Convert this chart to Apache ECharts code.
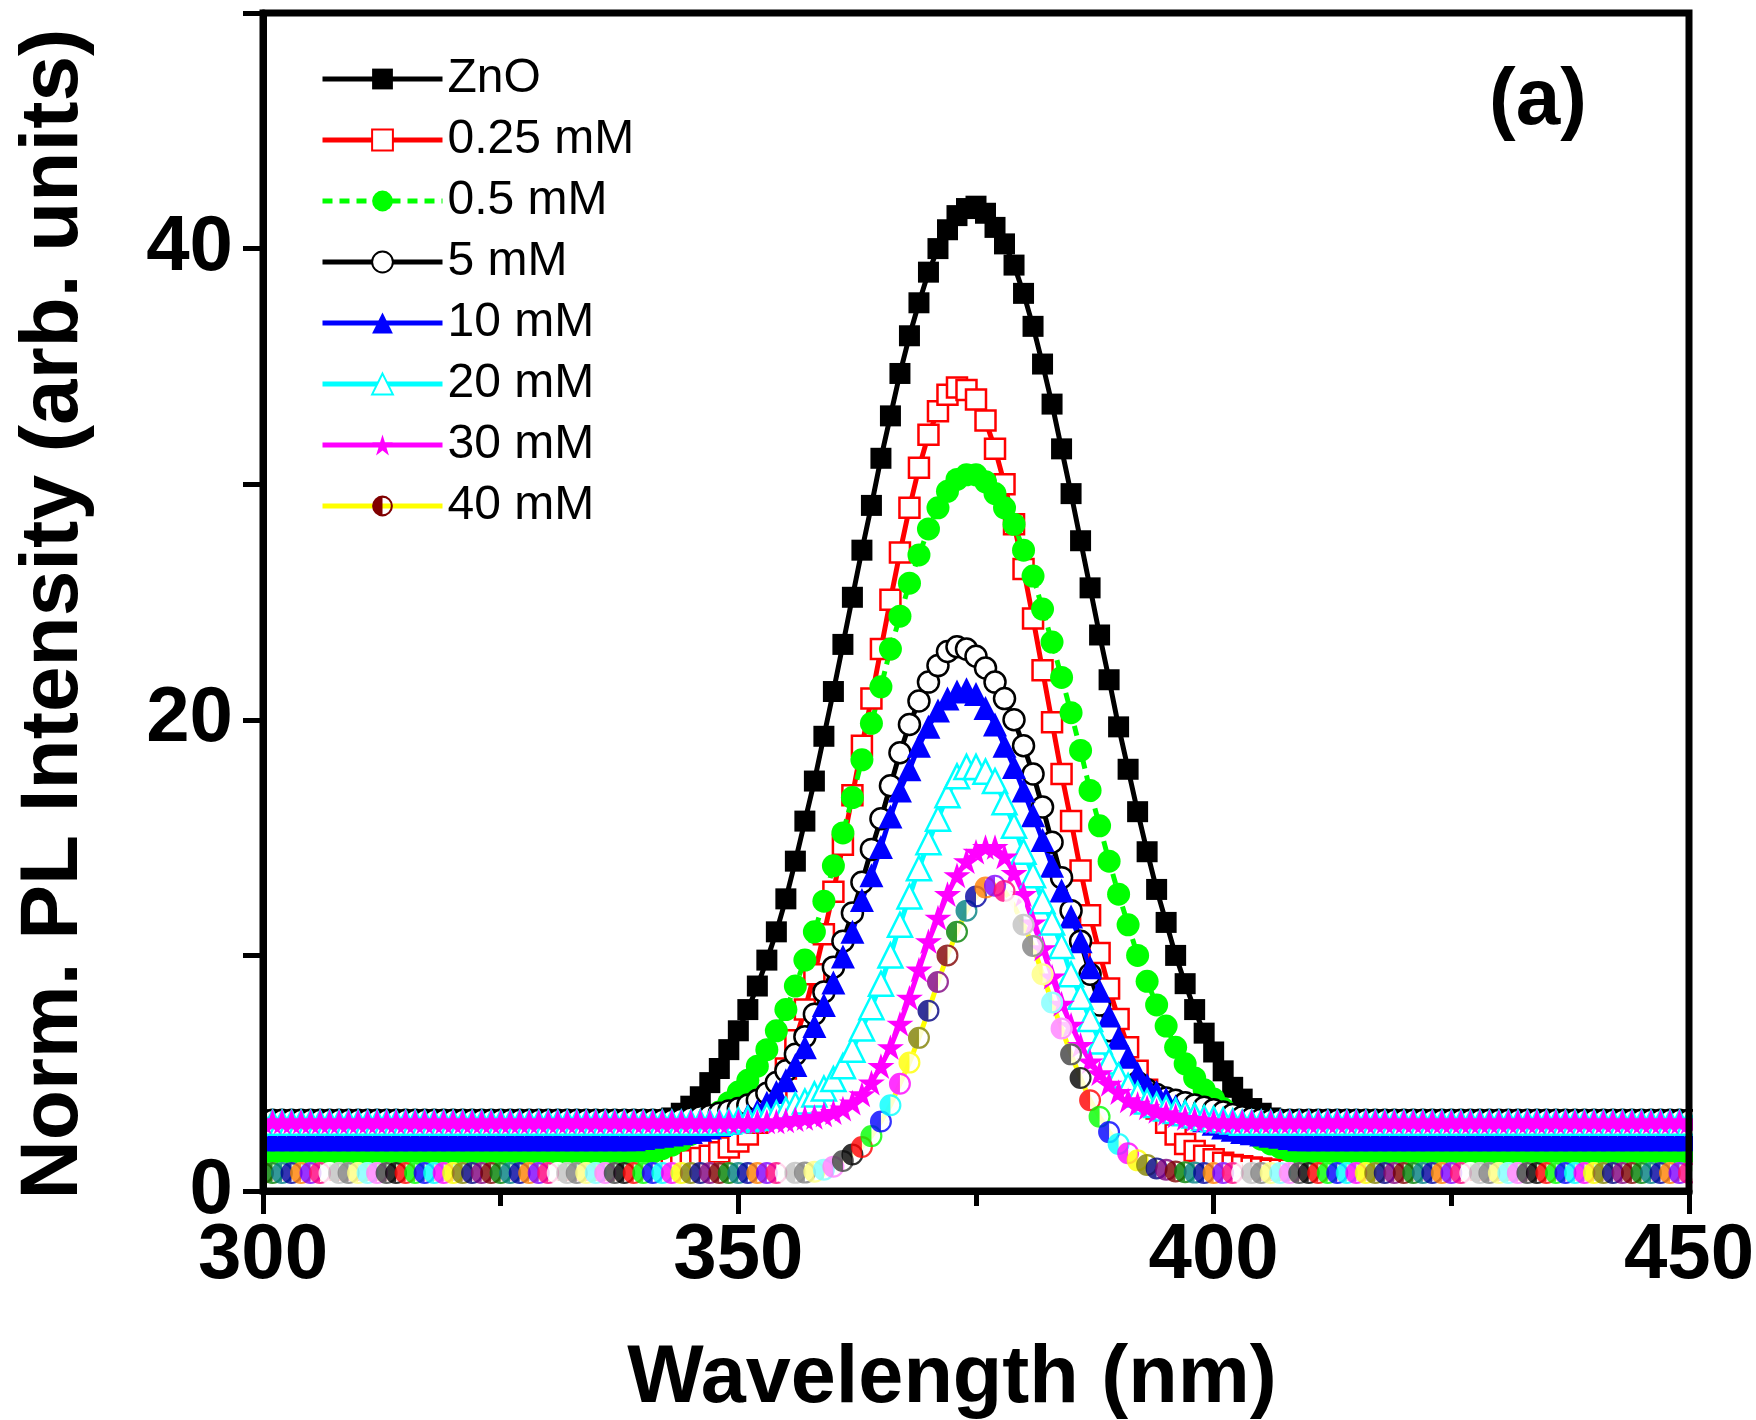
<!DOCTYPE html>
<html>
<head>
<meta charset="utf-8">
<script src="https://cdn.jsdelivr.net/npm/echarts@6/dist/echarts.min.js"></script>
<style>
  html, body { margin: 0; padding: 0; background: #fff; }
  #chart { width: 1756px; height: 1420px; }
</style>
</head>
<body>
<div id="chart"></div>
<script>
// wavelength axis (nm), one point per nm
const wavelength = [
  300,301,302,303,304,305,306,307,308,309,
  310,311,312,313,314,315,316,317,318,319,
  320,321,322,323,324,325,326,327,328,329,
  330,331,332,333,334,335,336,337,338,339,
  340,341,342,343,344,345,346,347,348,349,
  350,351,352,353,354,355,356,357,358,359,
  360,361,362,363,364,365,366,367,368,369,
  370,371,372,373,374,375,376,377,378,379,
  380,381,382,383,384,385,386,387,388,389,
  390,391,392,393,394,395,396,397,398,399,
  400,401,402,403,404,405,406,407,408,409,
  410,411,412,413,414,415,416,417,418,419,
  420,421,422,423,424,425,426,427,428,429,
  430,431,432,433,434,435,436,437,438,439,
  440,441,442,443,444,445,446,447,448,449,
  450
];

const znO = [
  3,3,3,3,3,3,3,3,3,3,
  3,3,3,3,3,3,3,3,3,3,
  3,3,3,3,3,3,3,3,3,3,
  3,3,3,3,3,3,3,3,3,3,
  3,3,3,3.1,3.3,3.6,4.0,4.6,5.2,6.0,
  6.8,7.7,8.7,9.8,11.0,12.4,14.0,15.7,17.4,19.3,
  21.2,23.2,25.2,27.2,29.1,31.1,32.9,34.7,36.3,37.7,
  39.0,40.0,40.8,41.4,41.7,41.8,41.5,40.9,40.2,39.3,
  38.1,36.7,35.1,33.4,31.5,29.6,27.6,25.6,23.6,21.7,
  19.7,17.9,16.1,14.4,12.8,11.4,10.0,8.8,7.7,6.7,
  5.9,5.1,4.4,3.9,3.5,3.3,3.1,3,3,3,
  3,3,3,3,3,3,3,3,3,3,
  3,3,3,3,3,3,3,3,3,3,
  3,3,3,3,3,3,3,3,3,3,
  3,3,3,3,3,3,3,3,3,3,
  3
];

const mM025 = [
  0.9,0.9,0.9,0.9,0.9,0.9,0.9,0.9,0.9,0.9,
  0.9,0.9,0.9,0.9,0.9,0.9,0.9,0.9,0.9,0.9,
  0.9,0.9,0.9,0.9,0.9,0.9,0.9,0.9,0.9,0.9,
  0.9,0.9,0.9,0.9,0.9,0.9,0.9,0.9,0.95,0.95,
  1.0,1.05,1.1,1.15,1.2,1.3,1.4,1.5,1.65,1.85,
  2.1,2.4,2.9,3.5,4.3,5.2,6.4,7.7,9.2,10.9,
  12.7,14.7,16.8,18.9,20.9,23.0,25.1,27.1,29.0,30.7,
  32.1,33.1,33.8,34.1,34.0,33.6,32.7,31.5,30.0,28.3,
  26.4,24.3,22.1,19.9,17.7,15.7,13.6,11.7,10.1,8.6,
  7.3,6.1,5.1,4.3,3.5,2.9,2.4,2.0,1.7,1.5,
  1.35,1.2,1.1,1.05,1.0,0.95,0.9,0.9,0.9,0.9,
  0.9,0.9,0.9,0.9,0.9,0.9,0.9,0.9,0.9,0.9,
  0.9,0.9,0.9,0.9,0.9,0.9,0.9,0.9,0.9,0.9,
  0.9,0.9,0.9,0.9,0.9,0.9,0.9,0.9,0.9,0.9,
  0.9,0.9,0.9,0.9,0.9,0.9,0.9,0.9,0.9,0.9,
  0.9
];

const mM05 = [
  1.3,1.3,1.3,1.3,1.3,1.3,1.3,1.3,1.3,1.3,
  1.3,1.3,1.3,1.3,1.3,1.3,1.3,1.3,1.3,1.3,
  1.3,1.3,1.3,1.3,1.3,1.3,1.3,1.3,1.3,1.3,
  1.3,1.3,1.3,1.3,1.3,1.3,1.3,1.35,1.4,1.45,
  1.55,1.65,1.8,1.95,2.15,2.4,2.7,3.0,3.35,3.75,
  4.2,4.7,5.3,6.0,6.8,7.7,8.7,9.8,11.0,12.3,
  13.8,15.2,16.7,18.3,19.85,21.4,23.0,24.4,25.8,27.0,
  28.1,29.0,29.7,30.2,30.4,30.4,30.1,29.6,29.0,28.3,
  27.2,26.1,24.7,23.3,21.8,20.3,18.7,17.0,15.5,14.0,
  12.6,11.3,10.0,8.9,7.9,7.0,6.1,5.4,4.8,4.3,
  3.9,3.5,3.1,2.75,2.45,2.2,2.0,1.85,1.7,1.6,
  1.5,1.45,1.4,1.35,1.3,1.3,1.3,1.3,1.3,1.3,
  1.3,1.3,1.3,1.3,1.3,1.3,1.3,1.3,1.3,1.3,
  1.3,1.3,1.3,1.3,1.3,1.3,1.3,1.3,1.3,1.3,
  1.3,1.3,1.3,1.3,1.3,1.3,1.3,1.3,1.3,1.3,
  1.3
];

const mM5 = [
  3,3,3,3,3,3,3,3,3,3,
  3,3,3,3,3,3,3,3,3,3,
  3,3,3,3,3,3,3,3,3,3,
  3,3,3,3,3,3,3,3,3,3,
  3,3,3,3,3.05,3.1,3.15,3.2,3.3,3.4,
  3.5,3.65,3.85,4.15,4.6,5.1,5.8,6.55,7.5,8.45,
  9.5,10.6,11.8,13.1,14.5,15.8,17.2,18.6,19.8,20.8,
  21.6,22.3,22.9,23.1,23.0,22.7,22.2,21.6,20.9,20.0,
  18.9,17.7,16.3,14.8,13.3,11.9,10.6,9.2,7.9,6.8,
  5.8,5.1,4.6,4.3,4.1,3.95,3.85,3.75,3.65,3.55,
  3.45,3.35,3.25,3.15,3.1,3.05,3,3,3,3,
  3,3,3,3,3,3,3,3,3,3,
  3,3,3,3,3,3,3,3,3,3,
  3,3,3,3,3,3,3,3,3,3,
  3,3,3,3,3,3,3,3,3,3,
  3
];

const mM10 = [
  2.2,2.2,2.2,2.2,2.2,2.2,2.2,2.2,2.2,2.2,
  2.2,2.2,2.2,2.2,2.2,2.2,2.2,2.2,2.2,2.2,
  2.2,2.2,2.2,2.2,2.2,2.2,2.2,2.2,2.2,2.2,
  2.2,2.2,2.2,2.2,2.2,2.2,2.2,2.2,2.2,2.2,
  2.25,2.3,2.35,2.4,2.45,2.5,2.6,2.7,2.8,2.9,
  3.05,3.2,3.4,3.75,4.2,4.7,5.35,6.1,7.0,7.9,
  8.85,9.95,11.0,12.35,13.4,14.6,15.9,17.0,17.9,18.9,
  19.7,20.4,20.9,21.2,21.3,21.1,20.5,19.8,18.9,18.0,
  17.0,15.95,14.9,13.8,12.75,11.65,10.6,9.5,8.5,7.45,
  6.5,5.7,5.0,4.5,4.2,3.9,3.6,3.4,3.2,3.0,
  2.85,2.7,2.6,2.5,2.45,2.4,2.35,2.3,2.25,2.2,
  2.2,2.2,2.2,2.2,2.2,2.2,2.2,2.2,2.2,2.2,
  2.2,2.2,2.2,2.2,2.2,2.2,2.2,2.2,2.2,2.2,
  2.2,2.2,2.2,2.2,2.2,2.2,2.2,2.2,2.2,2.2,
  2.2,2.2,2.2,2.2,2.2,2.2,2.2,2.2,2.2,2.2,
  2.2
];

const mM20 = [
  2.9,2.9,2.9,2.9,2.9,2.9,2.9,2.9,2.9,2.9,
  2.9,2.9,2.9,2.9,2.9,2.9,2.9,2.9,2.9,2.9,
  2.9,2.9,2.9,2.9,2.9,2.9,2.9,2.9,2.9,2.9,
  2.9,2.9,2.9,2.9,2.9,2.9,2.9,2.9,2.9,2.9,
  2.9,2.9,2.9,2.9,2.9,2.9,2.9,2.9,2.9,2.95,
  3.0,3.05,3.1,3.2,3.3,3.45,3.65,3.8,4.1,4.35,
  4.75,5.3,6.0,6.9,7.8,8.8,10.0,11.3,12.5,13.7,
  14.8,15.8,16.8,17.6,18.0,18.0,17.8,17.4,16.5,15.5,
  14.4,13.4,12.3,11.4,10.4,9.2,8.25,7.3,6.35,5.5,
  4.9,4.45,4.1,3.8,3.65,3.5,3.4,3.3,3.2,3.1,
  3.05,3.0,2.95,2.9,2.9,2.9,2.9,2.9,2.9,2.9,
  2.9,2.9,2.9,2.9,2.9,2.9,2.9,2.9,2.9,2.9,
  2.9,2.9,2.9,2.9,2.9,2.9,2.9,2.9,2.9,2.9,
  2.9,2.9,2.9,2.9,2.9,2.9,2.9,2.9,2.9,2.9,
  2.9,2.9,2.9,2.9,2.9,2.9,2.9,2.9,2.9,2.9,
  2.9
];

const mM30 = [
  2.95,2.95,2.95,2.95,2.95,2.95,2.95,2.95,2.95,2.95,
  2.95,2.95,2.95,2.95,2.95,2.95,2.95,2.95,2.95,2.95,
  2.95,2.95,2.95,2.95,2.95,2.95,2.95,2.95,2.95,2.95,
  2.95,2.95,2.95,2.95,2.95,2.95,2.95,2.95,2.95,2.95,
  2.95,2.95,2.95,2.95,2.95,2.95,2.95,2.95,2.95,2.95,
  2.95,2.95,2.95,2.95,2.95,3.0,3.05,3.1,3.15,3.25,
  3.35,3.5,3.75,4.1,4.6,5.3,6.1,7.1,8.2,9.4,
  10.6,11.6,12.6,13.4,14.0,14.4,14.6,14.6,14.2,13.5,
  12.6,11.4,10.3,9.1,7.95,7.05,6.2,5.5,5.0,4.55,
  4.2,3.85,3.7,3.55,3.4,3.3,3.2,3.1,3.05,3.0,
  2.95,2.95,2.95,2.95,2.95,2.95,2.95,2.95,2.95,2.95,
  2.95,2.95,2.95,2.95,2.95,2.95,2.95,2.95,2.95,2.95,
  2.95,2.95,2.95,2.95,2.95,2.95,2.95,2.95,2.95,2.95,
  2.95,2.95,2.95,2.95,2.95,2.95,2.95,2.95,2.95,2.95,
  2.95,2.95,2.95,2.95,2.95,2.95,2.95,2.95,2.95,2.95,
  2.95
];

const mM40 = [
  0.76,0.76,0.76,0.76,0.76,0.76,0.76,0.76,0.76,0.76,
  0.76,0.76,0.76,0.76,0.76,0.76,0.76,0.76,0.76,0.76,
  0.76,0.76,0.76,0.76,0.76,0.76,0.76,0.76,0.76,0.76,
  0.76,0.76,0.76,0.76,0.76,0.76,0.76,0.76,0.76,0.76,
  0.76,0.76,0.76,0.76,0.76,0.76,0.76,0.76,0.76,0.76,
  0.76,0.76,0.76,0.76,0.76,0.76,0.77,0.78,0.82,0.9,
  1.03,1.27,1.55,1.87,2.33,2.95,3.64,4.55,5.45,6.5,
  7.65,8.87,10.0,11.0,11.9,12.5,12.88,12.96,12.73,12.1,
  11.3,10.4,9.2,8.0,6.9,5.8,4.8,3.85,3.15,2.5,
  2.0,1.6,1.3,1.1,0.96,0.9,0.83,0.8,0.78,0.76,
  0.76,0.76,0.76,0.76,0.76,0.76,0.76,0.76,0.76,0.76,
  0.76,0.76,0.76,0.76,0.76,0.76,0.76,0.76,0.76,0.76,
  0.76,0.76,0.76,0.76,0.76,0.76,0.76,0.76,0.76,0.76,
  0.76,0.76,0.76,0.76,0.76,0.76,0.76,0.76,0.76,0.76,
  0.76,0.76,0.76,0.76,0.76,0.76,0.76,0.76,0.76,0.76,
  0.76
];

const xTicks = [300, 350, 400, 450];
const yTickLabels = [0, 20, 40];

// Origin's 24-colour increment list, used point by point for the 40 mM markers
const originColors = [
  '#000000','#FF0000','#00FF00','#0000FF','#00FFFF','#FF00FF','#FFFF00','#808000',
  '#000080','#800080','#800000','#008000','#008080','#0000A0','#FF8000','#8000FF',
  '#FF0080','#FFFFFF','#C0C0C0','#808080','#FFFF80','#80FFFF','#FF80FF','#404040'
];

const FONT = 'Liberation Sans, Arial, Helvetica, sans-serif';
const starPath = 'path://M50,0L61.23,34.55L97.55,34.55L68.16,55.9L79.39,90.45L50,69.1L20.61,90.45L31.84,55.9L2.45,34.55L38.77,34.55Z';
// left half filled, right half only an outline ring
const halfPath = 'path://M50,0A50,50,0,0,0,50,100Z M50,0A50,50,0,0,1,50,100L50,90A40,40,0,0,0,50,10Z';

function pts(ys) {
  return wavelength.map((x, i) => [x, ys[i]]);
}

// all series share z so they stack in series order, like the Origin layers
function lineSeries(name, ys, symbol, size, fill, stroke, lineColor, lineType) {
  return {
    name: name,
    type: 'line',
    z: 3,
    data: pts(ys),
    symbol: symbol,
    symbolSize: size,
    symbolKeepAspect: true,
    showAllSymbol: true,
    itemStyle: { color: fill, borderColor: stroke || fill, borderWidth: stroke ? 2.5 : 0 },
    lineStyle: { color: lineColor, width: 5, type: lineType || 'solid' },
    emphasis: { disabled: true },
    silent: true
  };
}

const series = [
  lineSeries('ZnO', znO, 'rect', 21, '#000000', null, '#000000'),
  lineSeries('0.25 mM', mM025, 'rect', 20, '#ffffff', '#ff0000', '#ff0000'),
  lineSeries('0.5 mM', mM05, 'circle', 23, '#00ff00', null, '#00ff00', [10, 7]),
  lineSeries('5 mM', mM5, 'circle', 21, '#ffffff', '#000000', '#000000'),
  lineSeries('10 mM', mM10, 'triangle', 24, '#0000ff', null, '#0000ff'),
  lineSeries('20 mM', mM20, 'triangle', 24, '#ffffff', '#00ffff', '#00ffff'),
  lineSeries('30 mM', mM30, starPath, 27, '#ff00ff', null, '#ff00ff'),
  {
    name: '40 mM',
    type: 'line',
    z: 3,
    data: pts(mM40),
    symbol: halfPath,
    symbolKeepAspect: true,
    showSymbol: false,
    itemStyle: { color: '#800000' },
    lineStyle: { color: '#ffff00', width: 5 },
    emphasis: { disabled: true },
    silent: true
  },
  {
    name: '40 mM bg',
    type: 'scatter',
    z: 3,
    data: pts(mM40),
    symbol: 'circle',
    symbolSize: 22,
    itemStyle: { color: '#ffffff' },
    emphasis: { disabled: true },
    silent: true
  },
  {
    name: '40 mM fg',
    type: 'scatter',
    z: 3,
    data: wavelength.map((x, i) => ({
      value: [x, mM40[i]],
      itemStyle: { color: originColors[(i + 10) % 24] }
    })),
    symbol: halfPath,
    symbolSize: 22,
    symbolKeepAspect: true,
    emphasis: { disabled: true },
    silent: true
  }
];

const option = {
  animation: false,
  backgroundColor: '#ffffff',
  title: {
    text: '(a)',
    left: 1484,
    top: 57,
    textStyle: { fontFamily: FONT, fontWeight: 'bold', fontSize: 80, color: '#000' }
  },
  legend: {
    data: ['ZnO', '0.25 mM', '0.5 mM', '5 mM', '10 mM', '20 mM', '30 mM', '40 mM'],
    orient: 'vertical',
    left: 320,
    top: 55,
    padding: 0,
    itemWidth: 120,
    itemHeight: 26,
    itemGap: 13,
    selectedMode: false,
    lineStyle: { width: 5 },
    textStyle: { fontFamily: FONT, fontSize: 48, color: '#000', lineHeight: 48 }
  },
  // white strips just outside the left and right axes, so markers end at the frame like the original
  graphic: [
    { type: 'rect', z: 5, silent: true, shape: { x: 238, y: 1090, width: 22, height: 96 }, style: { fill: '#ffffff' } },
    { type: 'rect', z: 5, silent: true, shape: { x: 1693, y: 1090, width: 24, height: 96 }, style: { fill: '#ffffff' } }
  ],
  grid: {
    left: 263, right: 67, top: 13, bottom: 229, z: 10,
    show: true, borderColor: '#000', borderWidth: 7,
    containLabel: false, outerBoundsMode: 'none'
  },
  xAxis: {
    type: 'value',
    z: 10,
    min: 300, max: 450, interval: 50,
    name: 'Wavelength (nm)',
    nameLocation: 'middle',
    nameGap: 148,
    nameTextStyle: { fontFamily: FONT, fontWeight: 'bold', fontSize: 81, color: '#000', padding: [0, 48, 0, 0] },
    axisLine: { show: true, onZero: false, lineStyle: { color: '#000', width: 7 } },
    axisTick: { show: true, inside: false, length: 23, lineStyle: { color: '#000', width: 5 } },
    minorTick: { show: true, splitNumber: 2, length: 15, lineStyle: { color: '#000', width: 5 } },
    splitLine: { show: false },
    minorSplitLine: { show: false },
    axisLabel: {
      fontFamily: FONT, fontWeight: 'bold', fontSize: 78, color: '#000', margin: 26,
      formatter: v => xTicks.includes(v) ? String(v) : ''
    }
  },
  yAxis: {
    type: 'value',
    z: 10,
    min: 0, max: 50, interval: 10,
    name: 'Norm. PL Intensity (arb. units)',
    nameLocation: 'middle',
    nameRotate: 90,
    nameGap: 168,
    nameTextStyle: { fontFamily: FONT, fontWeight: 'bold', fontSize: 82, color: '#000', padding: [0, 24, 0, 0] },
    axisLine: { show: true, onZero: false, lineStyle: { color: '#000', width: 7 } },
    axisTick: { show: true, inside: false, length: 20, lineStyle: { color: '#000', width: 5 } },
    splitLine: { show: false },
    axisLabel: {
      fontFamily: FONT, fontWeight: 'bold', fontSize: 78, color: '#000', margin: 30,
      formatter: v => yTickLabels.includes(v) ? String(v) : ''
    }
  },
  series: series
};

const chart = echarts.init(document.getElementById('chart'), null, { renderer: 'canvas' });
chart.setOption(option);
</script>
</body>
</html>
